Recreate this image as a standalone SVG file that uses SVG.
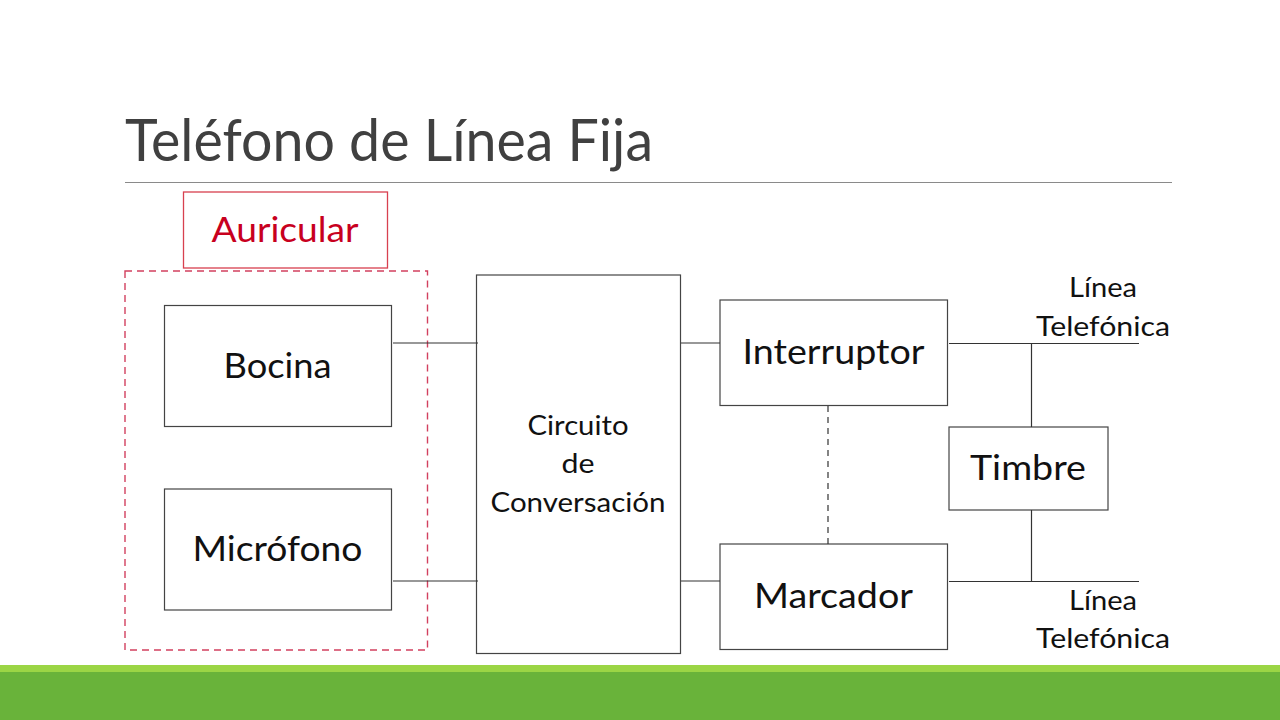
<svg xmlns="http://www.w3.org/2000/svg" width="1280" height="720" viewBox="0 0 1280 720">
<style>
text{font-family:"Lato","Open Sans","Liberation Sans",sans-serif;fill:#111;text-anchor:middle}
.b{fill:#fff;stroke:#444;stroke-width:1.2}
.l{stroke:#333;stroke-width:1.2;fill:none}
.m{font-size:35px}
.s{font-size:26px}
</style>
<rect width="1280" height="720" fill="#fff"/>
<rect x="0" y="665" width="1280" height="7" fill="#9bd545"/>
<rect x="0" y="672" width="1280" height="48" fill="#69b33a"/>
<text id="title" x="125" y="160.500" style="text-anchor:start;font-size:59px;fill:#404040" textLength="528" lengthAdjust="spacingAndGlyphs">Teléfono de Línea Fija</text>
<line x1="125" y1="182.500" x2="1172" y2="182.500" stroke="#8a8a8a" stroke-width="1.200"/>
<g id="auricular-group"><rect x="125" y="271" width="302.500" height="379" fill="none" stroke="#d2405f" stroke-width="1.400" stroke-dasharray="7 5"/></g>
<g id="auricular"><rect x="183.500" y="192" width="204" height="76" fill="#fff" stroke="#d8404f" stroke-width="1.300"/>
<text x="285" y="241.500" style="font-size:35px;fill:#c8001e" textLength="147" lengthAdjust="spacingAndGlyphs">Auricular</text></g>
<g id="bocina"><rect class="b" x="164.500" y="305.500" width="227" height="121"/><text class="m" x="277.500" y="377.500" textLength="108" lengthAdjust="spacingAndGlyphs">Bocina</text></g>
<g id="microfono"><rect class="b" x="164.500" y="489" width="227" height="121"/><text class="m" x="277.500" y="561" textLength="170" lengthAdjust="spacingAndGlyphs">Micrófono</text></g>
<g id="circuito"><rect class="b" x="476.500" y="275" width="204" height="378.500"/>
<text class="s" x="578" y="435" textLength="101" lengthAdjust="spacingAndGlyphs">Circuito</text>
<text class="s" x="578" y="473" textLength="33" lengthAdjust="spacingAndGlyphs">de</text>
<text class="s" x="578" y="512" textLength="175" lengthAdjust="spacingAndGlyphs">Conversación</text></g>
<g id="interruptor"><rect class="b" x="720" y="300" width="227.500" height="105.500"/><text class="m" x="833.500" y="364" textLength="182" lengthAdjust="spacingAndGlyphs">Interruptor</text></g>
<g id="marcador"><rect class="b" x="720" y="544" width="227.500" height="105.500"/><text class="m" x="833.500" y="608" textLength="159" lengthAdjust="spacingAndGlyphs">Marcador</text></g>
<g id="timbre"><rect class="b" x="949" y="427" width="159" height="83"/><text class="m" x="1028" y="480" textLength="116" lengthAdjust="spacingAndGlyphs">Timbre</text></g>
<g id="linea-top"><text class="s" x="1103" y="297" textLength="68" lengthAdjust="spacingAndGlyphs">Línea</text><text class="s" x="1103" y="336" textLength="134" lengthAdjust="spacingAndGlyphs">Telefónica</text></g>
<g id="linea-bottom"><text class="s" x="1103" y="610" textLength="68" lengthAdjust="spacingAndGlyphs">Línea</text><text class="s" x="1103" y="648" textLength="134" lengthAdjust="spacingAndGlyphs">Telefónica</text></g>
<g id="connectors">
<path class="l" d="M393 343H478M393 581H478M681 343H720M681 581H720M949 343.500H1139M949 581.500H1139M1031.500 343.500V427M1031.500 510V581.500"/>
<line class="l" x1="828" y1="406" x2="828" y2="544" stroke-dasharray="6 5"/>
</g>
</svg>
